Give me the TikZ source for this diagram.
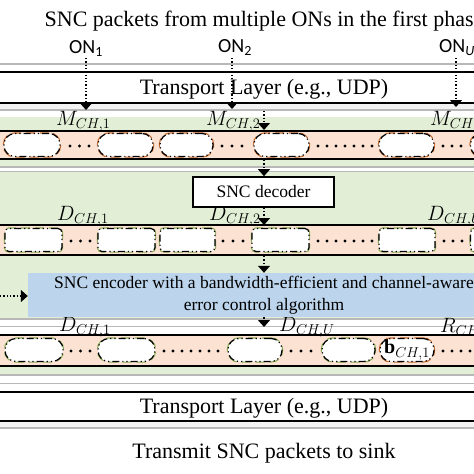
\documentclass[tikz,border=0pt]{standalone}
\usepackage{fontspec}
\setmainfont{Liberation Serif}
\newfontfamily\onfont{Carlito}
\usetikzlibrary{arrows.meta}
\definecolor{peach}{HTML}{FBE2D2}
\definecolor{lgreen}{HTML}{E2EED6}
\definecolor{lblue}{HTML}{BCD5EC}
\definecolor{porange}{HTML}{C56A2E}
\definecolor{pgreen}{HTML}{8BAA55}
\definecolor{lgray}{HTML}{B8B8B8}
\begin{document}
\begin{tikzpicture}[x=1pt,y=-1pt,
  blk/.style={line width=1.6pt,black},
  gry/.style={line width=1.6pt,lgray},
  dotarrow/.style={dotted, line width=1.3pt, -{Triangle[width=12pt,length=7pt]}},
  ttl/.style={font=\fontsize{22}{26}\selectfont, inner sep=0pt, anchor=base},
  boxtxt/.style={font=\fontsize{17.5}{22}\selectfont},
  lab/.style={font=\fontsize{21}{24}\selectfont, inner sep=0pt, anchor=base west},
  onl/.style={font=\onfont\fontsize{20}{24}\selectfont, inner sep=0pt, anchor=base},
  pkt/.style={minimum height=23pt, inner sep=0pt, fill=white, draw=black, line width=1.2pt,
     dash pattern=on 7pt off 3pt on 1.2pt off 3pt on 1.2pt off 3pt},
  pkto/.style={pkt, rounded corners=11pt, preaction={draw=porange, line width=2.4pt, dash pattern=on 9pt off 5pt}},
  pktg/.style={pkt, rounded corners=11pt, preaction={draw=pgreen, line width=2.4pt, dash pattern=on 9pt off 5pt}},
  pktgs/.style={pkt, rounded corners=4pt, preaction={draw=pgreen, line width=2.4pt, dash pattern=on 9pt off 5pt}},
]
\useasboundingbox (0,0) rectangle (474,474);
\clip (0,0) rectangle (474,474);
\fill[white] (0,0) rectangle (474,474);

% background bands
\fill[gray!10] (0,103) rectangle (474,110);
\fill[lgreen] (0,117) rectangle (474,131);
\fill[peach] (0,131) rectangle (474,159);
\fill[lgreen] (0,159) rectangle (474,166);
\fill[lgreen] (0,171) rectangle (474,225);
\fill[peach] (0,225) rectangle (474,255);
\fill[lgreen] (0,255) rectangle (474,318);
\fill[peach] (0,335) rectangle (474,366);
\fill[lgreen] (0,366) rectangle (474,374);
\fill[gray!10] (0,421) rectangle (474,428);

% horizontal lines
\draw[gry] (0,64) -- (474,64);
\draw[blk] (0,72) -- (474,72);
\draw[blk] (0,103) -- (474,103);
\draw[gry] (0,110) -- (474,110);
\draw[blk] (0,131) -- (474,131);
\draw[blk] (0,159) -- (474,159);
\draw[gry] (0,167) -- (474,167);
\draw[gry,line width=1pt] (0,171) -- (474,171);
\draw[blk] (0,225) -- (474,225);
\draw[blk] (0,255) -- (474,255);
\draw[gry] (0,319) -- (474,319);
\draw[gry,line width=1pt] (0,326) -- (474,326);
\draw[blk] (0,335) -- (474,335);
\draw[blk] (0,366) -- (474,366);
\draw[gry] (0,375) -- (474,375);
\draw[gry,line width=1pt] (0,383) -- (474,383);
\draw[blk] (0,392) -- (474,392);
\draw[blk] (0,421) -- (474,421);
\draw[gry] (0,428) -- (474,428);

% texts
\node[ttl] (title) at (264,26) {SNC packets from multiple ONs in the first phase};
\node[ttl] (tl1) at (264,94) {Transport Layer (e.g., UDP)};
\node[ttl] (tl2) at (264,413) {Transport Layer (e.g., UDP)};
\node[ttl] (sink) at (264,458) {Transmit SNC packets to sink};

% ON labels and arrows
\node[onl] (on1) at (86,53) {ON\textsubscript{1}};
\node[onl] (on2) at (235,52) {ON\textsubscript{2}};
\node[onl, anchor=base west] (onu) at (439,52) {ON\textsubscript{\textit{U}}};
\coordinate (on1a) at (86,58);  \coordinate (on1b) at (86,110);
\coordinate (on2a) at (232,58); \coordinate (on2b) at (232,109);
\coordinate (onua) at (456,58); \coordinate (onub) at (456,107);
\draw[dotarrow] (on1a) -- (on1b);
\draw[dotarrow] (on2a) -- (on2b);
\draw[dotarrow] (onua) -- (onub);

% row labels
\node[lab] (m1) at (56,125) {$M_{CH,1}$};
\node[lab] (m2) at (206,125) {$M_{CH,2}$};
\node[lab] (mu) at (430,125) {$M_{CH,U}$};
\node[lab] (d1) at (57,220) {$D_{CH,1}$};
\node[lab] (d2) at (209,220) {$D_{CH,2}$};
\node[lab] (du) at (427,220) {$D_{CH,U}$};
\node[lab] (e1) at (59,331) {$D_{CH,1}$};
\node[lab] (eu) at (279,331) {$D_{CH,U}$};
\node[lab] (r1) at (440,332) {$R_{CH,1}$};

% row 1 packets
\node[pkto, minimum width=56pt] (a1) at (32,145) {};
\node[pkto, minimum width=55pt] (a2) at (125.5,145) {};
\node[pkto, minimum width=53pt] (a3) at (186.5,145) {};
\node[pkto, minimum width=55pt] (a4) at (281.5,145) {};
\node[pkto, minimum width=55pt] (a5) at (406.5,145) {};
\node[pkto, minimum width=55pt] (a6) at (498,145) {};
\foreach \x in {70,79.5,89, 222,232,242, 318,327,336,345,354,363,372, 443,452,461}
  \fill (\x,146) circle (1.6);

% row 2 packets
\node[pktgs, minimum width=57pt] (b1) at (33.5,240) {};
\node[pktgs, minimum width=57pt] (b2) at (126.5,240) {};
\node[pktgs, minimum width=55pt] (b3) at (187.5,240) {};
\node[pktgs, minimum width=57pt] (b4) at (280.5,240) {};
\node[pktgs, minimum width=56pt] (b5) at (407,240) {};
\node[pktgs, minimum width=55pt] (b6) at (498,240) {};
\foreach \x in {71,80.5,90, 223,233,243, 318,327,336,345,354,363,372, 444,453,462}
  \fill (\x,241) circle (1.6);

% row 3 packets
\node[pktg, minimum width=58pt] (c1) at (34,350) {};
\node[pktg, minimum width=57pt] (c2) at (126.5,350) {};
\node[pktg, minimum width=54pt] (c3) at (255,350) {};
\node[pktg, minimum width=53pt] (c4) at (348.5,350) {};
\node[pkto, minimum width=54pt, font=\fontsize{20}{22}\selectfont] (c5) at (407,350) {$\mathbf{b}_{CH,1}$};
\foreach \x in {71,80.5,90, 164,173,182,191,200,209,218, 291,301,311, 443,452,461,470}
  \fill (\x,351) circle (1.6);

% decoder and encoder
\node[draw=black, line width=1.6pt, fill=white, minimum width=141pt, minimum height=30pt, inner sep=0pt, boxtxt] (dec) at (263.5,192) {SNC decoder};
\node[fill=lblue, minimum width=472pt, minimum height=44pt, inner sep=0pt, align=center, boxtxt] (enc) at (264,295)
  {SNC encoder with a bandwidth-efficient and channel-aware\\error control algorithm};

% middle chain
\coordinate (k0) at (264,111); \coordinate (k1) at (264,130);
\coordinate (k2) at (264,160);
\coordinate (k3) at (264,225);
\coordinate (k4) at (264,256);
\coordinate (k5) at (264,327);
\coordinate (encin) at (0,296);
\draw[dotarrow] (k0) -- (k1);
\draw[dotarrow] (k2) -- (dec.north -| k2);
\draw[dotarrow] (dec.south -| k3) -- (k3);
\draw[dotarrow] (k4) -- (enc.north -| k4);
\draw[dotarrow] (enc.south -| k5) -- (k5);
\draw[dotarrow] (encin) -- (enc.west |- encin);
\end{tikzpicture}
\end{document}
